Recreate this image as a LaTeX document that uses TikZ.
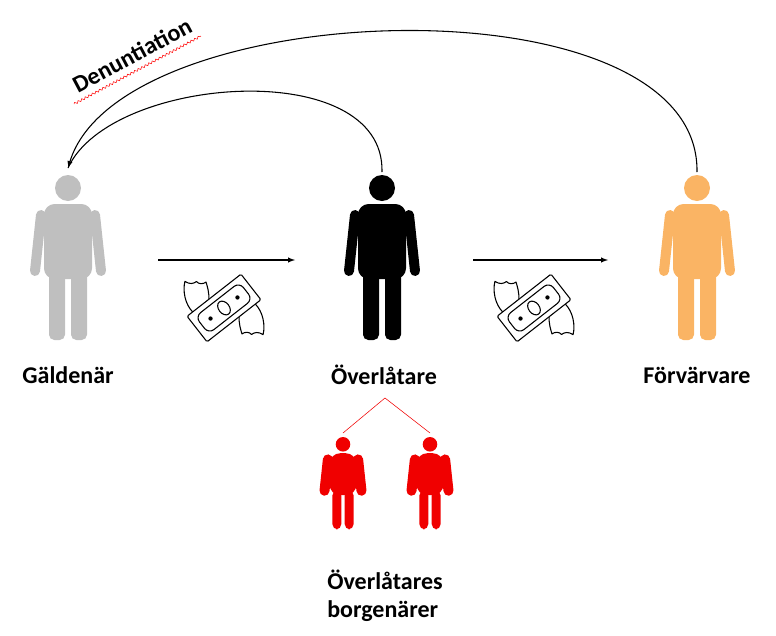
\documentclass[tikz,border=0pt]{standalone}
\usepackage{fontspec}
\setmainfont{Carlito}
\usetikzlibrary{positioning, decorations.pathmorphing}

\definecolor{persongray}{RGB}{191,191,191}
\definecolor{personorange}{RGB}{250,180,100}
\definecolor{personred}{RGB}{240,0,0}

\tikzset{
  person/.pic={
    \fill (0,13) circle (13);
    \fill[rounded corners=8] (-24,29) rectangle (24,104);
    \draw[line width=7.5pt, line cap=round] (-27,40) -- (-33,96) (27,40) -- (33,96);
    \fill[rounded corners=4] (-19,95) rectangle (-3,165) (3,95) rectangle (19,165);
  },
  money/.pic={
    % wings
    \draw[thick, fill=white, line join=round] (-30,-17) .. controls (-32,-30) and (-24,-44) .. (-16,-50)
      .. controls (-14,-44) and (-10,-42) .. (-6,-42)
      .. controls (-6,-38) and (-2,-35) .. (2,-35)
      .. controls (0,-30) and (-2,-24) .. (-8,-17);
    \draw[thick, fill=white, line join=round] (30,17) .. controls (32,30) and (24,44) .. (16,50)
      .. controls (14,44) and (10,42) .. (6,42)
      .. controls (6,38) and (2,35) .. (-2,35)
      .. controls (0,30) and (2,24) .. (8,17);
    % bill
    \draw[thick, fill=white, rounded corners=1] (-38,-18) rectangle (38,18);
    \draw[thick, rounded corners=5] (-31,-12) rectangle (31,12);
    \draw[thick] (0,0) ellipse (6 and 8.5);
    \fill (-19,0) circle (2.4) (19,0) circle (2.4);
  },
  tag/.style={font=\bfseries\fontsize{18}{21}\selectfont, inner sep=0},
  flow/.style={-latex, thick},
}

\begin{document}
\begin{tikzpicture}[x=0.75pt, y=-0.75pt, >=latex]
  \useasboundingbox (0,0) rectangle (776,636);

  \pic[persongray] (gald) at (68,175) {person};
  \pic[black] (overl) at (382,175) {person};
  \pic[personorange] (forv) at (697,175) {person};
  \pic[personred, scale=0.56] (cred1) at (343,437) {person};
  \pic[personred, scale=0.56] (cred2) at (430,437) {person};

  \coordinate (galdtop) at (68,168);
  \coordinate (overltop) at (382,172);
  \coordinate (forvtop) at (697,172);

  \node[tag] (galdlbl) at (68,375) {Gäldenär};
  \node[tag] (overllbl) at (384,375) {Överlåtare};
  \node[tag] (forvlbl) at (697,375) {Förvärvare};
  \node[tag, align=left] (credlbl) at (385,596) {Överlåtares\\borgenärer};

  \coordinate (split) at (385,398);
  \coordinate (cred1top) at (343,433);
  \coordinate (cred2top) at (430,433);
  \draw[personred] (cred1top) -- (split) -- (cred2top);

  \coordinate (a1s) at (158,260);
  \coordinate (a1e) at (295,260);
  \coordinate (a2s) at (473,260);
  \coordinate (a2e) at (608,260);
  \draw[flow] (a1s) -- (a1e);
  \draw[flow] (a2s) -- (a2e);
  \pic[rotate=38, scale=0.9] (cash1) at (224,308) {money};
  \pic[rotate=38, scale=0.9] (cash2) at (534,308) {money};

  \draw[thick] (overltop) .. controls (385,55) and (110,75) .. (galdtop);
  \draw[flow] (forvtop) .. controls (700,-25) and (120,-5) .. (galdtop);

  \node[tag, rotate=28] (denun) at (132,55) {Denuntiation};
  \draw[red, decorate, decoration={snake, amplitude=0.8, segment length=3}]
    (74,104) -- (201,36);
\end{tikzpicture}
\end{document}
